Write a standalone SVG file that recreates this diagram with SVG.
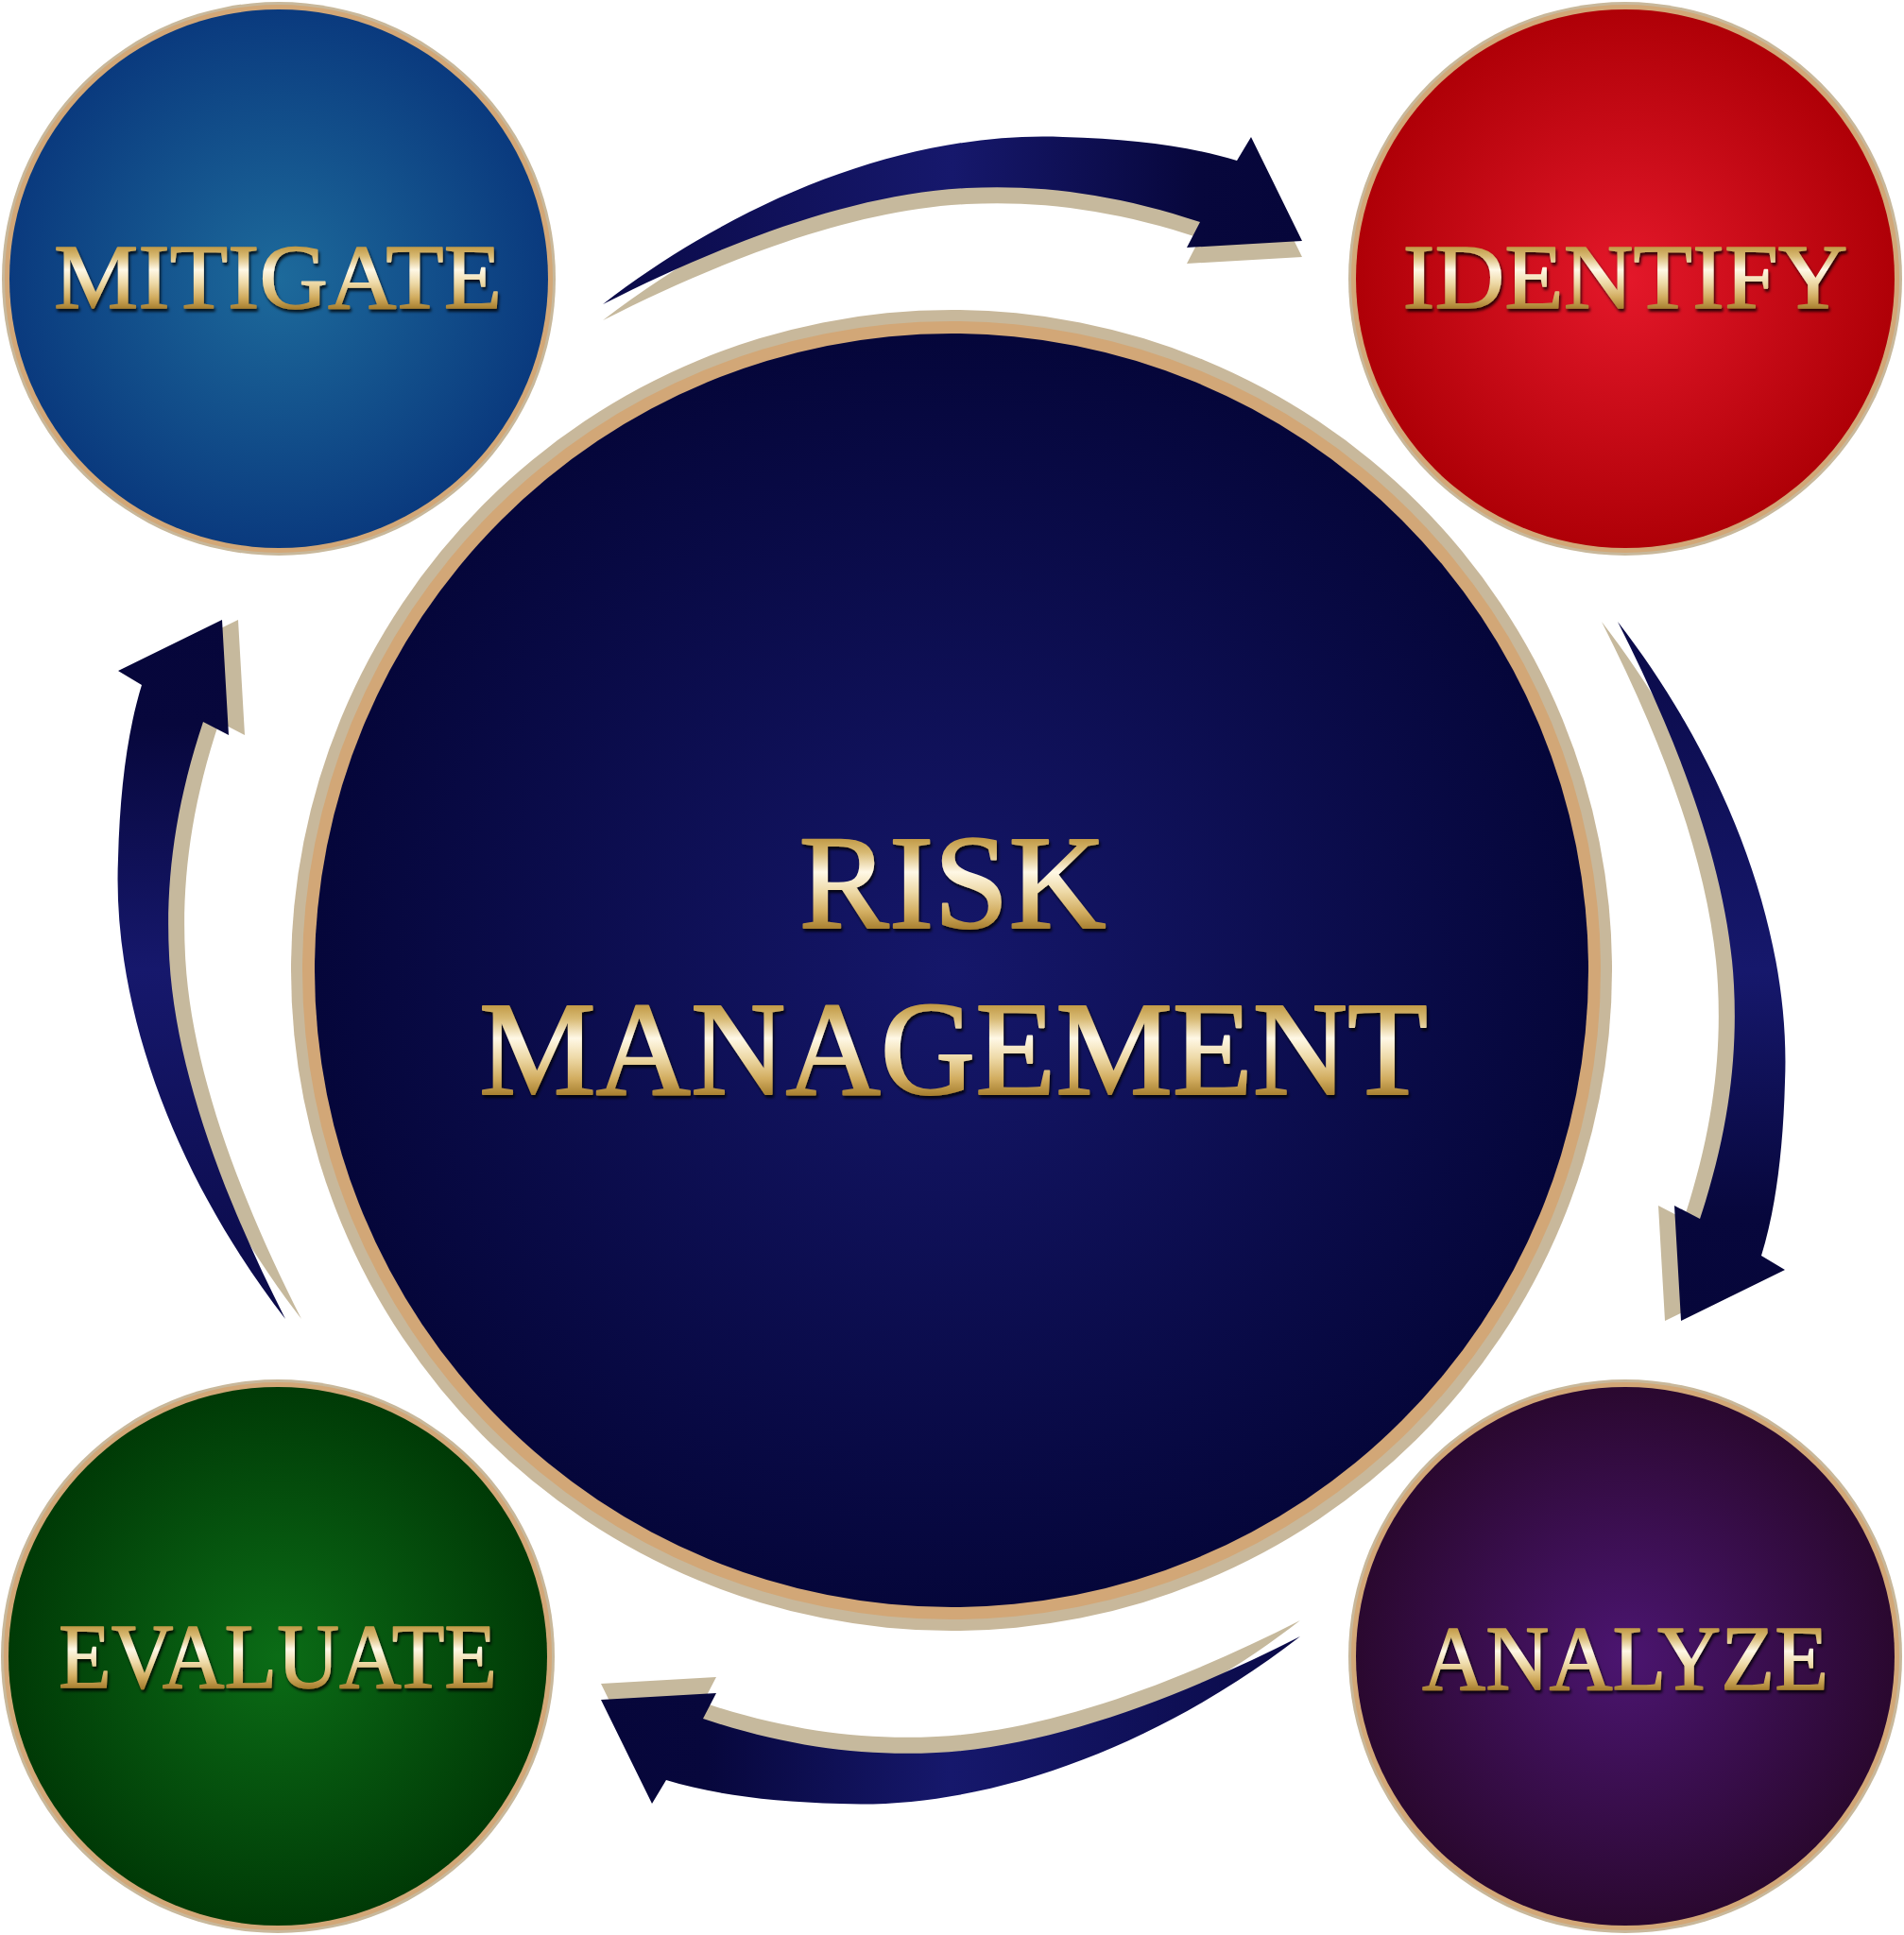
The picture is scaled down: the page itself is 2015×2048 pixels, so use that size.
<svg xmlns="http://www.w3.org/2000/svg" xmlns:xlink="http://www.w3.org/1999/xlink" width="2015" height="2048" viewBox="0 0 2015 2048">
<defs>
<style>
.ringOut{fill:#c8b89b}
.ringIn{fill:#d2a777}
.label{font-family:"Liberation Serif","Times New Roman",serif;text-anchor:middle;fill:url(#gold);stroke:url(#gold);stroke-width:1.4;stroke-linejoin:round;filter:url(#tshadow)}
.small{font-size:98px}
.big{font-size:142px}
.big.label{stroke-width:2}
.shadow{fill:#c6b99d}
.arrow{fill:url(#arrowGrad)}
</style>
<linearGradient id="gold" x1="0" y1="0" x2="0" y2="1">
<stop offset="0.2" stop-color="#c09844"/>
<stop offset="0.3" stop-color="#d8ba74"/>
<stop offset="0.43" stop-color="#fff8e6"/>
<stop offset="0.56" stop-color="#eedaa8"/>
<stop offset="0.7" stop-color="#d2ad60"/>
<stop offset="0.82" stop-color="#a47c2c"/>
</linearGradient>
<filter id="tshadow" x="-10%" y="-20%" width="120%" height="150%">
<feDropShadow dx="1.5" dy="3" stdDeviation="1.8" flood-color="#000" flood-opacity="0.8"/>
</filter>
<radialGradient id="gBlue"><stop offset="0" stop-color="#1d6a9b"/><stop offset="1" stop-color="#0a3a7e"/></radialGradient>
<radialGradient id="gRed"><stop offset="0" stop-color="#e4182a"/><stop offset="1" stop-color="#af0007"/></radialGradient>
<radialGradient id="gGreen"><stop offset="0" stop-color="#0b6c16"/><stop offset="1" stop-color="#003a06"/></radialGradient>
<radialGradient id="gPurple"><stop offset="0" stop-color="#4b1570"/><stop offset="1" stop-color="#2a082f"/></radialGradient>
<radialGradient id="gNavy"><stop offset="0" stop-color="#15176a"/><stop offset="1" stop-color="#05063a"/></radialGradient>
<linearGradient id="arrowGrad" gradientUnits="userSpaceOnUse" x1="638" y1="0" x2="1378" y2="0">
<stop offset="0" stop-color="#0a0a48"/>
<stop offset="0.5" stop-color="#16186c"/>
<stop offset="0.85" stop-color="#07073c"/>
<stop offset="1" stop-color="#06063a"/>
</linearGradient>
<path id="arrowShape" d="M638,322 C780,212 960,138 1125,145 C1200,147 1260,155 1309,170 L1324,145 L1378,255 L1256,262 L1270,235 C1180,205 1100,195 1023,199 C900,205 760,260 638,322 Z"/>
</defs>
<rect width="2015" height="2048" fill="#ffffff"/>

<g id="connectors">
<g id="arrow-mitigate-identify">
<use xlink:href="#arrowShape" class="shadow" transform="translate(0,17)"/>
<use xlink:href="#arrowShape" class="arrow"/>
</g>
<g id="arrow-identify-analyze" transform="rotate(90 1007 1027)">
<use xlink:href="#arrowShape" class="shadow" transform="translate(0,17)"/>
<use xlink:href="#arrowShape" class="arrow"/>
</g>
<g id="arrow-analyze-evaluate" transform="rotate(180 1007 1027)">
<use xlink:href="#arrowShape" class="shadow" transform="translate(0,17)"/>
<use xlink:href="#arrowShape" class="arrow"/>
</g>
<g id="arrow-evaluate-mitigate" transform="rotate(270 1007 1027)">
<use xlink:href="#arrowShape" class="shadow" transform="translate(0,17)"/>
<use xlink:href="#arrowShape" class="arrow"/>
</g>
</g>

<g id="node-center">
<circle cx="1007" cy="1027" r="699" class="ringOut"/>
<circle cx="1007" cy="1027" r="687" class="ringIn"/>
<circle cx="1007" cy="1027" r="674" fill="url(#gNavy)"/>
<text class="label big" x="1008" y="982" textLength="325" lengthAdjust="spacingAndGlyphs">RISK</text>
<text class="label big" x="1009" y="1158" textLength="1004" lengthAdjust="spacingAndGlyphs">MANAGEMENT</text>
</g>

<g id="node-mitigate">
<circle cx="295" cy="295" r="293" class="ringOut"/>
<circle cx="295" cy="295" r="290" class="ringIn"/>
<circle cx="295" cy="295" r="285" fill="url(#gBlue)"/>
<text class="label small" x="294" y="326" textLength="474" lengthAdjust="spacingAndGlyphs">MITIGATE</text>
</g>

<g id="node-identify">
<circle cx="1720" cy="295" r="293" class="ringOut"/>
<circle cx="1720" cy="295" r="290" class="ringIn"/>
<circle cx="1720" cy="295" r="285" fill="url(#gRed)"/>
<text class="label small" x="1720" y="326" textLength="471" lengthAdjust="spacingAndGlyphs">IDENTIFY</text>
</g>

<g id="node-evaluate">
<circle cx="294" cy="1753" r="293" class="ringOut"/>
<circle cx="294" cy="1753" r="290" class="ringIn"/>
<circle cx="294" cy="1753" r="285" fill="url(#gGreen)"/>
<text class="label small" x="294" y="1786" textLength="464" lengthAdjust="spacingAndGlyphs">EVALUATE</text>
</g>

<g id="node-analyze">
<circle cx="1720" cy="1753" r="293" class="ringOut"/>
<circle cx="1720" cy="1753" r="290" class="ringIn"/>
<circle cx="1720" cy="1753" r="285" fill="url(#gPurple)"/>
<text class="label small" x="1720" y="1788" textLength="430" lengthAdjust="spacingAndGlyphs">ANALYZE</text>
</g>
</svg>
